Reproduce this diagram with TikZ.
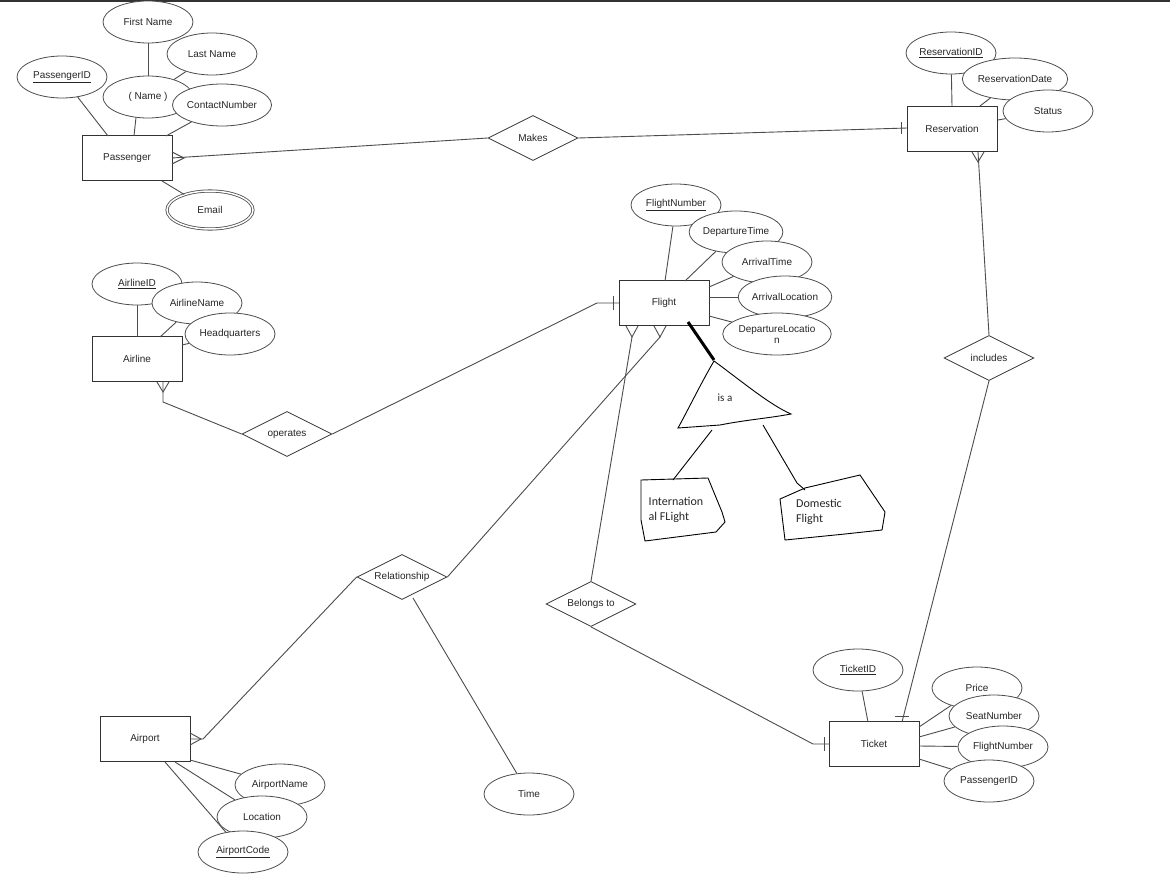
\documentclass[tikz,border=0pt]{standalone}
\usepackage{fontspec}
\setmainfont{Liberation Sans}
\newfontfamily\hand{Carlito}
\usetikzlibrary{shapes.geometric}
\begin{document}
\begin{tikzpicture}[x=1pt,y=-1pt,line width=0.8pt,draw=black!75,
 every node/.style={font=\fontsize{10}{11}\selectfont,text=black!85},
 ent/.style={draw=black!80,fill=white,rectangle,minimum width=90pt,minimum height=45pt,inner sep=0pt},
 att/.style={draw=black!70,fill=white,ellipse,minimum width=90pt,minimum height=42pt,inner sep=0pt},
 rel/.style={draw=black!80,fill=white,diamond,aspect=2,minimum width=90pt,minimum height=45pt,inner sep=0pt},
 ln/.style={draw=black!70,line width=0.9pt},
 blob/.style={draw=black,line width=0.9pt}]
\useasboundingbox (0,0) rectangle (1170,888);
\fill[white] (0,0) rectangle (1170,888);
\draw[black!80,line width=1.2pt] (0,1) -- (1170,1);
% entities
\node[ent] (pas) at (127,158) {Passenger};
\node[ent] (res) at (952,129) {Reservation};
\node[ent] (fli) at (664,303) {Flight};
\node[ent] (air) at (137,359) {Airline};
\node[ent] (apt) at (145,739) {Airport};
\node[ent] (tic) at (874,744) {Ticket};
% attributes
\node[att] (fn) at (148,22) {First Name};
\node[att] (nm) at (148,97) {( Name )};
\node[att] (lnm) at (212,54) {Last Name};
\node[att] (cn) at (222,105) {ContactNumber};
\node[att] (pid) at (62,77) {\underline{PassengerID}};
\node[att,double,double distance=1.5pt,minimum width=86pt,minimum height=38pt] (em) at (210,210) {Email};
\node[att] (rid) at (951,53) {\underline{ReservationID}};
\node[att] (rd) at (1015,79) {ReservationDate};
\node[att] (st) at (1048,111) {Status};
\node[att] (ffn) at (676,205) {\underline{FlightNumber}};
\node[att] (dt) at (736,232) {DepartureTime};
\node[att] (at) at (767,262) {ArrivalTime};
\node[att] (al) at (785,297) {ArrivalLocation};
\node[att,align=center,font=\fontsize{10}{11}\selectfont] (dl) at (777,334) {DepartureLocatio\\n};
\node[att] (aid) at (137,284) {\underline{AirlineID}};
\node[att] (an) at (197,303) {AirlineName};
\node[att] (hq) at (230,334) {Headquarters};
\node[att] (apn) at (280,785) {AirportName};
\node[att] (loc) at (262,817) {Location};
\node[att] (apc) at (243,852) {\underline{AirportCode}};
\node[att] (tid) at (858,670) {\underline{TicketID}};
\node[att] (pr) at (977,688) {Price};
\node[att] (sn) at (994,716) {SeatNumber};
\node[att] (tfn) at (1003,747) {FlightNumber};
\node[att] (tpid) at (989,781) {PassengerID};
\node[att] (tm) at (529,794) {Time};
% relationships
\node[rel] (mk) at (533,138) {Makes};
\node[rel] (inc) at (989,358) {includes};
\node[rel] (op) at (287,434) {operates};
\node[rel] (rl) at (402,577) {Relationship};
\node[rel] (bt) at (591,604) {Belongs to};
% attribute links
\draw[ln] (fn) -- (nm);
\draw[ln] (lnm) -- (nm);
\draw[ln] (nm.south) ++(-12,-1) -- (134,136);
\draw[ln] (pid) -- (108,136);
\draw[ln] (cn) -- (166,136);
\draw[ln] (162,181) -- (em);
\draw[ln] (rid) -- (952,106);
\draw[ln] (rd) -- (980,106);
\draw[ln] (st) -- (998,120);
\draw[ln] (ffn) -- (665,281);
\draw[ln] (dt) -- (685,281);
\draw[ln] (at) -- (709,287);
\draw[ln] (al) -- (709,297);
\draw[ln] (dl) -- (709,316);
\draw[ln] (aid) -- (137,337);
\draw[ln] (an) -- (160,337);
\draw[ln] (hq) -- (182,345);
\draw[ln] (apn) -- (190,760);
\draw[ln] (loc) -- (175,762);
\draw[ln] (apc) -- (165,762);
\draw[ln] (tid) -- (868,722);
\draw[ln] (pr) -- (919,727);
\draw[ln] (sn) -- (919,737);
\draw[ln] (tfn) -- (919,746);
\draw[ln] (tpid) -- (919,759);
% relationship links
\draw[ln] (172,158) -- (mk.west);
\draw[ln] (172,152) -- (184,158) -- (172,164);
\draw[ln] (mk.east) -- (907,128);
\draw[ln] (901,122) -- (901,134);
\draw[ln] (978,152) -- (inc.north);
\draw[ln] (972,152) -- (978,162) -- (984,152);
\draw[ln] (inc.south) -- (902,722);
\draw[ln] (895,716) -- (909,716);
\draw[ln] (163,382) -- (163,402) -- (op.west);
\draw[ln] (157,382) -- (163,392) -- (169,382);
\draw[ln] (op.east) -- (597,303) -- (619,303);
\draw[ln] (613,296) -- (613,310);
\draw[ln] (632,337) -- (bt.north);
\draw[ln] (626,326) -- (632,337) -- (638,326);
\draw[ln] (660,337) -- (rl.east);
\draw[ln] (654,326) -- (660,337) -- (666,326);
\draw[ln] (rl.west) -- (203,739) -- (190,739);
\draw[ln] (190,733) -- (201,739) -- (190,745);
\draw[ln] (413,598) -- (tm);
\draw[ln] (bt.south) -- (813,744) -- (830,744);
\draw[ln] (824,737) -- (824,751);
% specialization (hand drawn)
\draw[black,line width=3pt] (688,322) -- (714,360);
\draw[blob] (714,361) .. controls (700,385) and (688,410) .. (678,428) -- (720,425) .. controls (745,420) and (770,418) .. (791,414) .. controls (770,405) and (740,380) .. (714,361);
\node[font=\hand\fontsize{11}{12}\selectfont] (isa) at (725,398) {is a};
\draw[blob] (712,430) -- (673,480);
\draw[blob] (763,425) -- (797,483) -- (805,490);
\draw[blob] (641,480) -- (708,478) -- (722,512) -- (725,522) -- (716,532) -- (645,541) -- (641,520) -- cycle;
\draw[blob] (780,499) -- (805,488) -- (860,475) -- (885,512) -- (882,530) -- (845,534) -- (785,540) -- cycle;
\node[font=\hand\fontsize{12}{15}\selectfont,align=left] (intl) at (676,510) {Internation\\al FLight};
\node[font=\hand\fontsize{12}{15}\selectfont,align=left] (dom) at (819,512) {Domestic\\Flight};
\end{tikzpicture}
\end{document}
